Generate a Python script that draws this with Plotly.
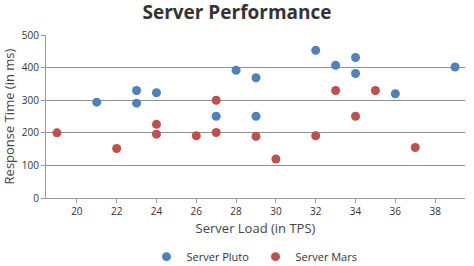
import plotly.graph_objects as go

pluto_x = [21, 23, 23, 24, 27, 28, 29, 29, 32, 33, 34, 34, 36, 39]
pluto_y = [294, 330, 291, 323, 251, 392, 369, 251, 453, 407, 431, 382, 320, 402]
mars_x = [19, 22, 24, 24, 26, 27, 27, 29, 30, 32, 33, 34, 35, 37]
mars_y = [200, 152, 226, 196, 191, 300, 201, 189, 120, 191, 330, 251, 330, 155]

fig = go.Figure()
fig.add_trace(go.Scatter(x=pluto_x, y=pluto_y, mode="markers", name="Server Pluto",
                         marker=dict(color="#4F81BC", size=9)))
fig.add_trace(go.Scatter(x=mars_x, y=mars_y, mode="markers", name="Server Mars",
                         marker=dict(color="#C0504E", size=9)))

font = "Open Sans, Noto Sans, sans-serif"
fig.update_layout(
    width=474, height=266,
    margin=dict(l=44, r=9, t=35, b=63),
    paper_bgcolor="white", plot_bgcolor="white",
    title=dict(text="<b>Server Performance</b>", x=0.5, xanchor="center", y=0.955, yanchor="middle",
               font=dict(family="Open Sans, sans-serif", size=19, color="#333333")),
    font=dict(family=font, color="#333333"),
    showlegend=True,
    legend=dict(orientation="h", x=0.5, xanchor="center", yref="container", y=0.035, yanchor="middle",
                font=dict(size=11, color="#333333"), itemsizing="trace", itemwidth=30,
                entrywidth=64, entrywidthmode="pixels", tracegroupgap=0),
    xaxis=dict(range=[18.45, 39.5], dtick=2, tick0=20, showgrid=False, zeroline=False,
               showline=True, linecolor="#999999", linewidth=1, ticks="outside", ticklen=4,
               tickcolor="#999999", tickfont=dict(size=10, color="#333333"),
               title=dict(text="Server Load (in TPS)", font=dict(size=13, color="#444444"), standoff=6)),
    yaxis=dict(range=[0, 500], dtick=100, showgrid=True, gridcolor="#8f8f8f", gridwidth=1.2,
               zeroline=False, showline=True, linecolor="#999999", linewidth=1, ticks="outside",
               ticklen=4, tickcolor="#999999", tickfont=dict(size=10, color="#333333"),
               title=dict(text="Response Time (in ms)", font=dict(size=13, color="#444444"), standoff=4)),
)
fig.write_html("out.html")
